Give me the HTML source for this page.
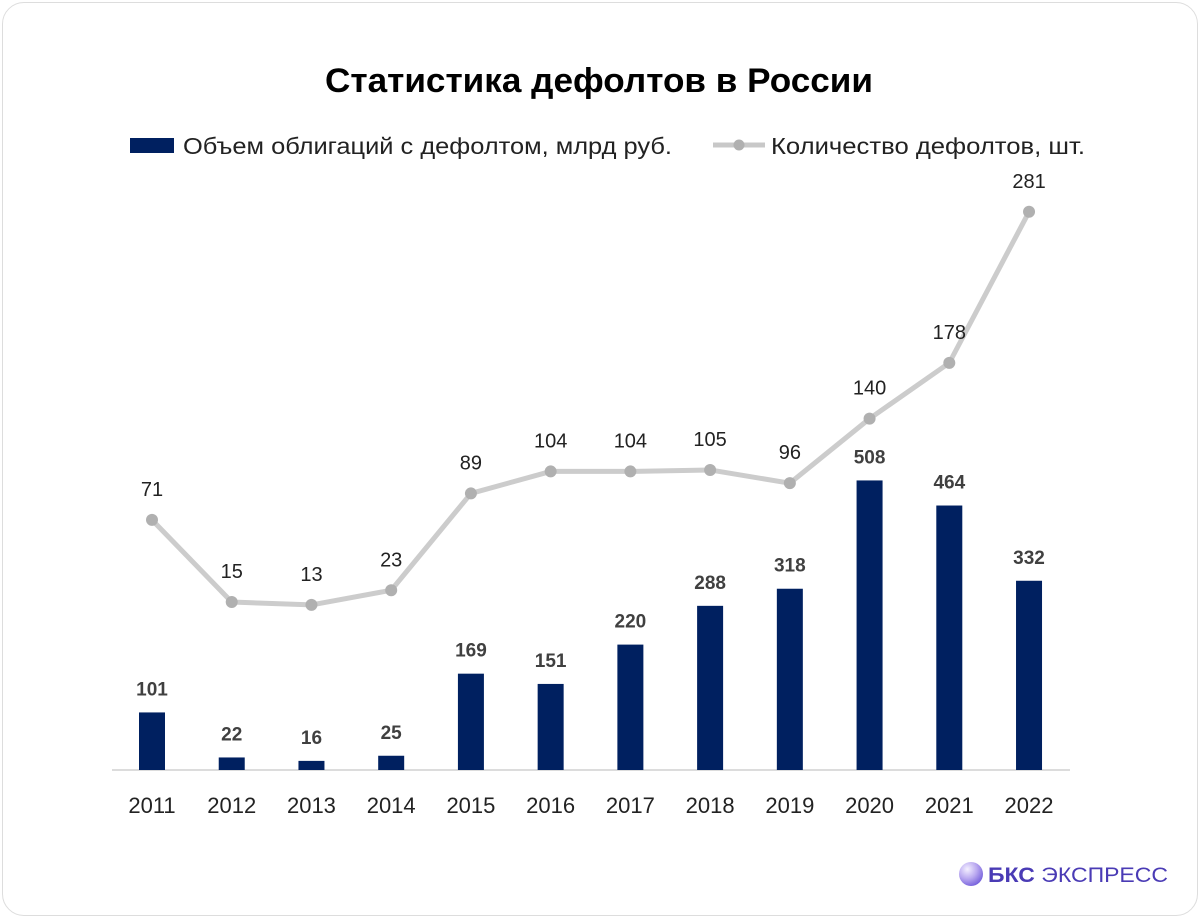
<!DOCTYPE html>
<html><head><meta charset="utf-8"><style>
body{margin:0;background:#fff;}
#card{position:absolute;left:2px;top:2px;width:1194px;height:912px;border:1px solid #ddd;border-radius:22px;background:#fff;}
svg{position:absolute;left:0;top:0;font-family:"Liberation Sans","DejaVu Sans",sans-serif;}
</style></head><body>
<div id="card"></div>
<svg id="chart" width="1200" height="918">
<text x="325" y="92" textLength="548" lengthAdjust="spacingAndGlyphs" font-size="34" font-weight="bold" fill="#000">Статистика дефолтов в России</text>
<g>
<rect x="130" y="138" width="44" height="15" fill="#002060"/>
<text x="183" y="154" font-size="23" textLength="489" lengthAdjust="spacingAndGlyphs" fill="#222">Объем облигаций с дефолтом, млрд руб.</text>
<line x1="713" y1="145" x2="765" y2="145" stroke="#c8c8c8" stroke-width="5"/>
<circle cx="739" cy="145" r="5.5" fill="#b0b0b0"/>
<text x="771" y="154" font-size="23" textLength="314" lengthAdjust="spacingAndGlyphs" fill="#222">Количество дефолтов, шт.</text>
</g>
<line x1="112" y1="770" x2="1070" y2="770" stroke="#d0d0d0" stroke-width="1.5"/>
<g id="marks"></g>
<g>
<defs><radialGradient id="lg" cx="0.35" cy="0.3" r="0.8"><stop offset="0" stop-color="#f4f0ff"/><stop offset="0.5" stop-color="#b9a8f0"/><stop offset="1" stop-color="#6a55d8"/></radialGradient></defs>
<circle cx="971" cy="874" r="12" fill="url(#lg)"/>
<text x="988" y="882" font-size="21" textLength="180" lengthAdjust="spacingAndGlyphs" fill="#4a3bb5"><tspan font-weight="bold">БКС</tspan> ЭКСПРЕСС</text>
</g>
</svg>
<script>
const years=["2011","2012","2013","2014","2015","2016","2017","2018","2019","2020","2021","2022"];
const volumes=[101,22,16,25,169,151,220,288,318,508,464,332];
const counts=[71,15,13,23,89,104,104,105,96,140,178,281];
const NS="http://www.w3.org/2000/svg";
const g=document.getElementById('marks');
const x=i=>152+i*79.73;
const yBar=v=>770-v*0.57;
const yLine=v=>624-v*1.467;
function mk(tag,attrs,parent){const e=document.createElementNS(NS,tag);for(const k in attrs)e.setAttribute(k,attrs[k]);(parent||g).appendChild(e);return e;}
years.forEach((yr,i)=>{
  const b=mk('rect',{x:x(i)-13,y:yBar(volumes[i]),width:26,height:770-yBar(volumes[i]),fill:'#002060'});
  
  
  const t=mk('text',{x:x(i),y:yBar(volumes[i])-17,'text-anchor':'middle','font-size':19,'font-weight':'bold',fill:'#404040'});
  t.textContent=volumes[i];
  
  
  const xl=mk('text',{x:x(i),y:813,'text-anchor':'middle','font-size':22,fill:'#222'});
  xl.textContent=yr;
  
  
});
const pl=mk('polyline',{points:counts.map((c,i)=>x(i)+','+yLine(c)).join(' '),fill:'none',stroke:'#cccccc','stroke-width':5,'stroke-linejoin':'round'});


counts.forEach((c,i)=>{
  const p=mk('circle',{cx:x(i),cy:yLine(c),r:6,fill:'#b0b0b0'});
  
  
  const t=mk('text',{x:x(i),y:yLine(c)-24,'text-anchor':'middle','font-size':20,fill:'#222'});
  t.textContent=c;
  
  
});
</script>
</body></html>
